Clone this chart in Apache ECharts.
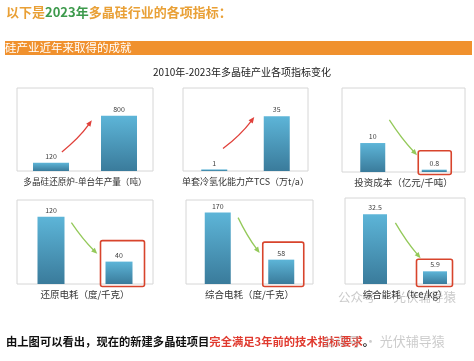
<!DOCTYPE html>
<html><head><meta charset="utf-8">
<script src="https://cdn.jsdelivr.net/npm/echarts@6/dist/echarts.min.js"></script>
<style>html,body{margin:0;padding:0;background:#fff}#c{width:474px;height:361px}</style>
</head><body><div id="c"></div>
<script>
// ---- data ----
const categories = ['2010年', '2023年'];
const indicatorNames = ['多晶硅还原炉-单台年产量（吨）', '单套冷氢化能力产TCS（万t/a）', '投资成本（亿元/千吨）', '还原电耗（度/千克）', '综合电耗（度/千克）', '综合能耗（tce/kg）'];
const values2010 = [120, 1, 10, 120, 170, 32.5];
const values2023 = [800, 35, 0.8, 40, 58, 5.9];
const axisMax = [1200, 53, 29, 150, 200, 40];

// ---- layout / style ----
const grids = [
  {left: 17, top: 88, width: 136, height: 83, barWidth: 36, nameSize: 8.6},
  {left: 183, top: 88, width: 125, height: 83, barWidth: 26, nameSize: 9},
  {left: 342, top: 88, width: 123, height: 84, barWidth: 25, nameSize: 9.5},
  {left: 17, top: 200, width: 136, height: 84, barWidth: 27, nameSize: 9.5},
  {left: 186, top: 200, width: 127, height: 84, barWidth: 26, nameSize: 9.5},
  {left: 345, top: 198, width: 120, height: 86, barWidth: 24, nameSize: 9.5}
];
const FONT = '"Noto Sans CJK SC", "Noto Sans", sans-serif';
const chart = echarts.init(document.getElementById('c'), null, {renderer: 'canvas'});
const barColor = new echarts.graphic.LinearGradient(0, 0, 0, 1, [
  {offset: 0, color: '#5db5d8'}, {offset: 1, color: '#3a7b9b'}
]);

const option = {
  animation: false,
  backgroundColor: '#ffffff',
  grid: grids.map(g => ({left: g.left, top: g.top, width: g.width, height: g.height,
    show: true, borderColor: '#d6d6d6', borderWidth: 1, containLabel: false})),
  xAxis: grids.map((g, i) => ({
    type: 'category', gridIndex: i, data: categories,
    axisLine: {show: false}, axisTick: {show: false}, axisLabel: {show: false},
    name: indicatorNames[i], nameLocation: 'middle', nameGap: 6,
    nameTextStyle: {fontSize: g.nameSize, color: '#333', fontFamily: FONT, verticalAlign: 'top'}
  })),
  yAxis: grids.map((g, i) => ({
    type: 'value', gridIndex: i, min: 0, max: axisMax[i], show: false, splitLine: {show: false}
  })),
  series: grids.map((g, i) => ({
    type: 'bar', xAxisIndex: i, yAxisIndex: i, barWidth: g.barWidth,
    data: [values2010[i], values2023[i]],
    itemStyle: {color: barColor},
    label: {show: true, position: 'top', distance: 3, fontSize: 7, color: '#404040', fontFamily: FONT}
  }))
};
chart.setOption(option);

// ---- annotations computed from the chart's own scales ----
const graphics = [];
graphics.push({type: 'text', left: 6, top: 6, style: {
  text: '{o|以下是}{g|2023年}{o|多晶硅行业的各项指标：}',
  rich: {
    o: {fill: '#e9a036', fontSize: 13, fontWeight: 'bold', fontFamily: FONT},
    g: {fill: '#3d9a4c', fontSize: 13, fontWeight: 'bold', fontFamily: FONT}
  }}});
graphics.push({type: 'rect', shape: {x: 5, y: 41, width: 467, height: 14}, style: {fill: '#f0912e'}});
graphics.push({type: 'text', left: 5, top: 42, style: {text: '硅产业近年来取得的成就', fill: '#ffffff', fontSize: 11.5, fontFamily: FONT}});
graphics.push({type: 'text', x: 242, y: 72, style: {text: '2010年-2023年多晶硅产业各项指标变化', fill: '#222', fontSize: 10, fontFamily: FONT, align: 'center', verticalAlign: 'middle'}});

// arrows: fractions of grid area [sx, sy, ex, ey, bow]
const arrows = [
  [0.33, 0.77, 0.55, 0.39, -3, '#e0403a'],
  [0.32, 0.73, 0.57, 0.35, -3, '#e0403a'],
  [0.385, 0.38, 0.61, 0.80, -2, '#94c95a'],
  [0.40, 0.27, 0.59, 0.64, -2, '#94c95a'],
  [0.41, 0.21, 0.58, 0.63, -2, '#94c95a'],
  [0.42, 0.29, 0.63, 0.70, -2, '#94c95a']
];
arrows.forEach((a, i) => {
  const g = grids[i];
  const x1 = g.left + a[0] * g.width, y1 = g.top + a[1] * g.height;
  const x2 = g.left + a[2] * g.width, y2 = g.top + a[3] * g.height;
  const dx = x2 - x1, dy = y2 - y1, L = Math.hypot(dx, dy);
  const px = dy / L, py = -dx / L;
  const cx = (x1 + x2) / 2 + px * a[4], cy = (y1 + y2) / 2 + py * a[4];
  let tx = x2 - cx, ty = y2 - cy; const tl = Math.hypot(tx, ty); tx /= tl; ty /= tl;
  const bx = x2 - tx * 6, by = y2 - ty * 6;
  graphics.push({type: 'bezierCurve', shape: {x1, y1, x2: bx + tx * 1, y2: by + ty * 1, cpx1: cx, cpy1: cy},
    style: {stroke: a[5], lineWidth: 1.3, fill: null}});
  graphics.push({type: 'polygon', shape: {points: [[x2, y2], [bx - ty * 2.6, by + tx * 2.6], [bx + ty * 2.6, by - tx * 2.6]]},
    style: {fill: a[5]}});
});

// red highlight boxes around the 2023 bar: [panel, left ext, right ext, above bar top]
const boxes = [[2, 16, 17, 19], [3, 18.5, 25.5, 21], [4, 18.5, 22.5, 17.5], [5, 18.5, 17.5, 12]];
boxes.forEach(b => {
  const i = b[0];
  const top = chart.convertToPixel({gridIndex: i}, [1, values2023[i]]);
  const base = chart.convertToPixel({gridIndex: i}, [1, 0]);
  graphics.push({type: 'rect', shape: {x: top[0] - b[1], y: top[1] - b[3], width: b[1] + b[2], height: base[1] - top[1] + b[3] + 2.5, r: 2},
    style: {stroke: '#d8442c', lineWidth: 1.6, fill: null}});
});

graphics.push({type: 'text', left: 6, top: 336, style: {
  text: '{a|由上图可以看出，现在的新建多晶硅项目}{b|完全满足3年前的技术指标要求}{a|。}',
  rich: {
    a: {fill: '#111', fontSize: 11.3, fontWeight: 'bold', fontFamily: FONT},
    b: {fill: '#e03a2f', fontSize: 11.3, fontWeight: 'bold', fontFamily: FONT}
  }}});
// watermarks
graphics.push({type: 'text', left: 338, top: 291, style: {text: '公众号 · 光伏辅导猿', fill: 'rgba(150,150,150,0.5)', fontSize: 12.5, fontFamily: FONT}});
graphics.push({type: 'text', left: 322, top: 335, style: {text: '公众号 · 光伏辅导猿', fill: 'rgba(170,170,170,0.6)', fontSize: 13, fontFamily: FONT}});

chart.setOption({graphic: graphics});
</script></body></html>
